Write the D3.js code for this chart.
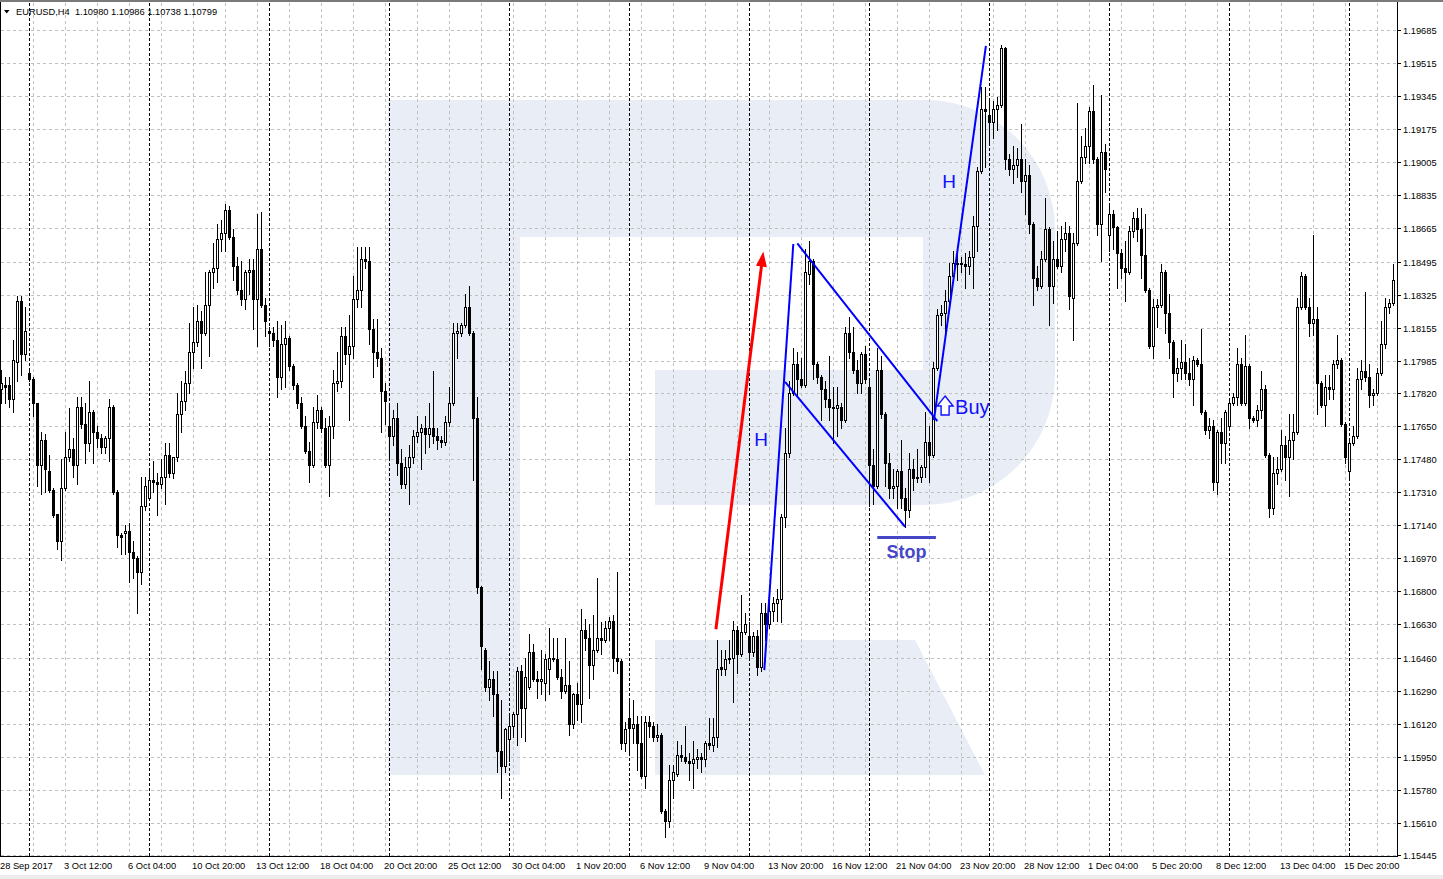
<!DOCTYPE html>
<html><head><meta charset="utf-8">
<script src="https://cdn.jsdelivr.net/npm/d3@7"></script>
<style>
html,body{margin:0;padding:0;background:#fff;overflow:hidden}
svg{display:block}
text{font-family:"Liberation Sans",Arial,sans-serif}
</style></head><body>
<svg id="c" width="1443" height="879"></svg>
<script>
// ---- DATA (EURUSD H4, first bar 28 Sep 2017 20:00) ----
const opens=[1.1784,1.1786,1.1786,1.1779,1.1798,1.1829,1.1802,1.1792,1.1789,1.1777,
1.1745,1.1758,1.1742,1.1732,1.1720,1.1706,1.1733,1.1749,1.1753,1.1745,
1.1775,1.1766,1.1756,1.1772,1.1762,1.1759,1.1754,1.1759,1.1775,1.1731,
1.1709,1.1710,1.1711,1.1700,1.1697,1.1690,1.1724,1.1728,1.1737,1.1736,
1.1735,1.1739,1.1750,1.1741,1.1749,1.1771,1.1778,1.1787,1.1803,1.1808,
1.1819,1.1813,1.1827,1.1844,1.1846,1.1861,1.1864,1.1876,1.1862,1.1847,
1.1835,1.1830,1.1844,1.1845,1.1830,1.1856,1.1827,1.1814,1.1813,1.1809,
1.1790,1.1807,1.1810,1.1796,1.1786,1.1777,1.1765,1.1752,1.1745,1.1767,
1.1773,1.1764,1.1745,1.1765,1.1787,1.1788,1.1811,1.1802,1.1806,1.1830,
1.1835,1.1851,1.1850,1.1815,1.1803,1.1800,1.1783,1.1765,1.1760,1.1769,
1.1746,1.1735,1.1744,1.1749,1.1760,1.1762,1.1764,1.1761,1.1764,1.1760,
1.1758,1.1757,1.1767,1.1777,1.1813,1.1813,1.1817,1.1826,1.1813,1.1769,
1.1682,1.1650,1.1631,1.1635,1.1627,1.1598,1.1590,1.1604,1.1611,1.1617,
1.1639,1.1620,1.1631,1.1649,1.1635,1.1634,1.1633,1.1640,1.1646,1.1645,
1.1636,1.1629,1.1632,1.1612,1.1627,1.1622,1.1660,1.1656,1.1642,1.1650,
1.1656,1.1655,1.1661,1.1665,1.1646,1.1644,1.1602,1.1615,1.1610,1.1612,
1.1602,1.1585,1.1613,1.1611,1.1605,1.1606,1.1567,1.1562,1.1583,1.1586,
1.1596,1.1595,1.1593,1.1592,1.1594,1.1595,1.1594,1.1602,1.1601,1.1605,
1.1641,1.1640,1.1645,1.1646,1.1660,1.1648,1.1659,1.1657,1.1649,1.1657,
1.1641,1.1669,1.1663,1.1670,1.1674,1.1676,1.1718,1.1751,1.1782,1.1797,
1.1789,1.1786,1.1843,1.1850,1.1797,1.1790,1.1784,1.1779,1.1775,1.1774,
1.1775,1.1768,1.1813,1.1803,1.1794,1.1787,1.1802,1.1785,1.1745,1.1734,
1.1794,1.1771,1.1746,1.1733,1.1734,1.1742,1.1728,1.1722,1.1743,1.1738,
1.1739,1.1744,1.1757,1.1750,1.1795,1.1822,1.1823,1.1829,1.1842,1.1848,
1.1849,1.1848,1.1847,1.1852,1.1868,1.1896,1.1928,1.1925,1.1921,1.1928,
1.1930,1.1959,1.1902,1.1897,1.1899,1.1902,1.1891,1.1894,1.1869,1.1841,
1.1837,1.1851,1.1866,1.1837,1.1851,1.1847,1.1861,1.1864,1.1831,1.1859,
1.1891,1.1903,1.1909,1.1927,1.1902,1.1869,1.1906,1.1863,1.1874,1.1867,
1.1854,1.1846,1.1844,1.1865,1.1872,1.1866,1.1853,1.1835,1.1806,1.1826,
1.1827,1.1844,1.1823,1.1808,1.1792,1.1795,1.1798,1.1792,1.1789,1.1799,
1.1797,1.1772,1.1763,1.1765,1.1736,1.1762,1.1756,1.1765,1.1777,1.1780,
1.1797,1.1777,1.1796,1.1769,1.1768,1.1773,1.1784,1.1750,1.1723,1.1741,
1.1743,1.1755,1.1749,1.1758,1.1762,1.1826,1.1842,1.1826,1.1818,1.1820,
1.1787,1.1776,1.1785,1.1784,1.1797,1.1799,1.1766,1.1742,1.1756,1.1760,
1.1789,1.1793,1.1790,1.1781,1.1782,1.1792,1.1807,1.1826,1.1828];
const highs=[1.1794,1.1790,1.1790,1.1809,1.1832,1.1832,1.1826,1.1793,1.1790,1.1777,
1.1762,1.1761,1.1750,1.1733,1.1720,1.1748,1.1762,1.1774,1.1759,1.1780,
1.1780,1.1777,1.1788,1.1773,1.1765,1.1761,1.1760,1.1779,1.1776,1.1732,
1.1710,1.1714,1.1715,1.1706,1.1698,1.1739,1.1739,1.1742,1.1747,1.1741,
1.1748,1.1756,1.1756,1.1749,1.1782,1.1788,1.1793,1.1818,1.1826,1.1827,
1.1824,1.1844,1.1845,1.1859,1.1869,1.1871,1.1879,1.1878,1.1866,1.1852,
1.1850,1.1845,1.1851,1.1851,1.1874,1.1875,1.1831,1.1816,1.1816,1.1819,
1.1817,1.1819,1.1811,1.1797,1.1787,1.1780,1.1770,1.1757,1.1775,1.1781,
1.1775,1.1769,1.1770,1.1794,1.1803,1.1816,1.1816,1.1822,1.1842,1.1857,
1.1857,1.1857,1.1857,1.1820,1.1820,1.1805,1.1787,1.1776,1.1773,1.1777,
1.1753,1.1749,1.1755,1.1763,1.1770,1.1766,1.1770,1.1777,1.1793,1.1764,
1.1760,1.1770,1.1785,1.1818,1.1818,1.1818,1.1833,1.1837,1.1814,1.1780,
1.1683,1.1651,1.1644,1.1639,1.1639,1.1624,1.1610,1.1616,1.1618,1.1641,
1.1642,1.1646,1.1658,1.1653,1.1639,1.1650,1.1648,1.1661,1.1656,1.1656,
1.1640,1.1656,1.1644,1.1628,1.1633,1.1671,1.1666,1.1663,1.1668,1.1687,
1.1664,1.1665,1.1667,1.1668,1.1690,1.1645,1.1613,1.1624,1.1624,1.1616,
1.1616,1.1616,1.1616,1.1613,1.1612,1.1607,1.1568,1.1591,1.1591,1.1603,
1.1601,1.1611,1.1597,1.1603,1.1599,1.1597,1.1603,1.1615,1.1615,1.1655,
1.1650,1.1650,1.1655,1.1665,1.1662,1.1678,1.1669,1.1664,1.1659,1.1660,
1.1674,1.1674,1.1675,1.1677,1.1681,1.1720,1.1764,1.1788,1.1805,1.1803,
1.1800,1.1856,1.1860,1.1851,1.1798,1.1791,1.1788,1.1801,1.1785,1.1785,
1.1777,1.1816,1.1821,1.1816,1.1799,1.1803,1.1806,1.1789,1.1753,1.1805,
1.1801,1.1772,1.1751,1.1743,1.1743,1.1758,1.1733,1.1751,1.1748,1.1753,
1.1745,1.1772,1.1765,1.1798,1.1825,1.1827,1.1835,1.1849,1.1855,1.1854,
1.1852,1.1854,1.1855,1.1873,1.1898,1.1939,1.1939,1.1932,1.1932,1.1934,
1.1961,1.1960,1.1905,1.1909,1.1908,1.1920,1.1902,1.1899,1.1870,1.1847,
1.1855,1.1882,1.1867,1.1860,1.1865,1.1868,1.1870,1.1868,1.1864,1.1931,
1.1914,1.1918,1.1929,1.1940,1.1903,1.1935,1.1910,1.1878,1.1876,1.1868,
1.1856,1.1860,1.1868,1.1875,1.1877,1.1877,1.1874,1.1836,1.1830,1.1830,
1.1848,1.1845,1.1833,1.1809,1.1800,1.1809,1.1807,1.1800,1.1801,1.1800,
1.1815,1.1773,1.1769,1.1768,1.1763,1.1769,1.1773,1.1779,1.1782,1.1805,
1.1800,1.1812,1.1797,1.1770,1.1776,1.1793,1.1786,1.1751,1.1749,1.1749,
1.1763,1.1760,1.1771,1.1771,1.1831,1.1844,1.1843,1.1831,1.1863,1.1826,
1.1788,1.1791,1.1791,1.1799,1.1812,1.1800,1.1767,1.1758,1.1765,1.1795,
1.1799,1.1834,1.1797,1.1784,1.1795,1.1819,1.1831,1.1830,1.1848];
const lows=[1.1777,1.1777,1.1775,1.1772,1.1788,1.1791,1.1799,1.1788,1.1770,1.1734,
1.1730,1.1731,1.1731,1.1718,1.1702,1.1696,1.1732,1.1747,1.1739,1.1735,
1.1764,1.1746,1.1752,1.1746,1.1754,1.1751,1.1751,1.1747,1.1730,1.1703,
1.1699,1.1699,1.1685,1.1687,1.1669,1.1684,1.1722,1.1727,1.1731,1.1719,
1.1733,1.1725,1.1739,1.1738,1.1747,1.1762,1.1773,1.1782,1.1795,1.1806,
1.1795,1.1812,1.1801,1.1836,1.1839,1.1855,1.1855,1.1861,1.1840,1.1833,
1.1827,1.1825,1.1833,1.1815,1.1806,1.1826,1.1811,1.1806,1.1806,1.1780,
1.1784,1.1785,1.1794,1.1784,1.1774,1.1764,1.1751,1.1736,1.1744,1.1764,
1.1762,1.1744,1.1729,1.1759,1.1783,1.1785,1.1797,1.1768,1.1800,1.1826,
1.1826,1.1846,1.1807,1.1790,1.1796,1.1762,1.1766,1.1749,1.1755,1.1740,
1.1733,1.1733,1.1725,1.1746,1.1757,1.1743,1.1751,1.1754,1.1756,1.1753,
1.1754,1.1755,1.1765,1.1776,1.1800,1.1811,1.1816,1.1812,1.1737,1.1679,
1.1640,1.1629,1.1624,1.1616,1.1587,1.1574,1.1587,1.1593,1.1605,1.1601,
1.1605,1.1603,1.1630,1.1634,1.1625,1.1627,1.1624,1.1627,1.1644,1.1635,
1.1625,1.1628,1.1606,1.1610,1.1614,1.1613,1.1650,1.1625,1.1635,1.1649,
1.1648,1.1654,1.1655,1.1639,1.1638,1.1599,1.1598,1.1596,1.1602,1.1588,
1.1584,1.1579,1.1605,1.1603,1.1603,1.1566,1.1554,1.1559,1.1574,1.1585,
1.1593,1.1592,1.1583,1.1579,1.1589,1.1587,1.1590,1.1599,1.1598,1.1600,
1.1637,1.1637,1.1643,1.1623,1.1638,1.1647,1.1658,1.1645,1.1647,1.1637,
1.1639,1.1655,1.1661,1.1665,1.1665,1.1664,1.1713,1.1749,1.1781,1.1781,
1.1785,1.1785,1.1838,1.1789,1.1787,1.1768,1.1775,1.1768,1.1756,1.1760,
1.1764,1.1767,1.1800,1.1792,1.1782,1.1782,1.1787,1.1724,1.1725,1.1733,
1.1769,1.1734,1.1728,1.1728,1.1723,1.1723,1.1713,1.1718,1.1732,1.1736,
1.1736,1.1739,1.1736,1.1749,1.1794,1.1817,1.1813,1.1826,1.1840,1.1840,
1.1844,1.1836,1.1843,1.1836,1.1855,1.1895,1.1898,1.1910,1.1913,1.1917,
1.1929,1.1897,1.1894,1.1890,1.1893,1.1885,1.1874,1.1864,1.1827,1.1835,
1.1836,1.1850,1.1817,1.1828,1.1846,1.1844,1.1855,1.1825,1.1809,1.1858,
1.1890,1.1900,1.1900,1.1900,1.1863,1.1850,1.1885,1.1855,1.1856,1.1836,
1.1841,1.1829,1.1843,1.1862,1.1860,1.1841,1.1834,1.1805,1.1800,1.1816,
1.1826,1.1813,1.1800,1.1780,1.1788,1.1789,1.1789,1.1786,1.1776,1.1796,
1.1771,1.1761,1.1759,1.1732,1.1730,1.1746,1.1746,1.1764,1.1776,1.1776,
1.1776,1.1776,1.1764,1.1767,1.1765,1.1769,1.1749,1.1718,1.1720,1.1735,
1.1742,1.1737,1.1729,1.1748,1.1761,1.1825,1.1825,1.1811,1.1812,1.1771,
1.1775,1.1765,1.1779,1.1779,1.1795,1.1765,1.1746,1.1737,1.1755,1.1759,
1.1784,1.1788,1.1775,1.1776,1.1781,1.1791,1.1805,1.1823,1.1827];
const closes=[1.1787,1.1785,1.1779,1.1799,1.1829,1.1802,1.1814,1.1789,1.1777,1.1745,
1.1758,1.1743,1.1732,1.1719,1.1706,1.1733,1.1749,1.1753,1.1745,1.1775,
1.1766,1.1756,1.1772,1.1762,1.1759,1.1754,1.1759,1.1775,1.1731,1.1709,
1.1708,1.1711,1.1700,1.1697,1.1690,1.1724,1.1734,1.1737,1.1736,1.1735,
1.1739,1.1750,1.1741,1.1749,1.1771,1.1778,1.1787,1.1803,1.1808,1.1819,
1.1813,1.1827,1.1844,1.1846,1.1861,1.1864,1.1876,1.1862,1.1847,1.1835,
1.1830,1.1844,1.1845,1.1830,1.1856,1.1827,1.1819,1.1813,1.1809,1.1790,
1.1807,1.1810,1.1796,1.1786,1.1777,1.1765,1.1752,1.1745,1.1767,1.1773,
1.1764,1.1745,1.1765,1.1787,1.1788,1.1811,1.1802,1.1806,1.1830,1.1835,
1.1851,1.1850,1.1815,1.1803,1.1800,1.1783,1.1778,1.1760,1.1769,1.1746,
1.1735,1.1744,1.1749,1.1760,1.1762,1.1764,1.1761,1.1764,1.1760,1.1758,
1.1757,1.1767,1.1777,1.1813,1.1814,1.1817,1.1826,1.1813,1.1769,1.1682,
1.1652,1.1631,1.1635,1.1627,1.1598,1.1590,1.1609,1.1611,1.1617,1.1639,
1.1620,1.1636,1.1649,1.1635,1.1634,1.1635,1.1645,1.1646,1.1645,1.1636,
1.1629,1.1632,1.1612,1.1627,1.1622,1.1660,1.1656,1.1642,1.1650,1.1656,
1.1655,1.1661,1.1665,1.1646,1.1644,1.1602,1.1609,1.1610,1.1612,1.1602,
1.1585,1.1613,1.1611,1.1605,1.1606,1.1567,1.1562,1.1583,1.1587,1.1596,
1.1595,1.1593,1.1592,1.1594,1.1595,1.1594,1.1602,1.1601,1.1605,1.1640,
1.1640,1.1645,1.1646,1.1660,1.1648,1.1659,1.1663,1.1649,1.1657,1.1641,
1.1669,1.1663,1.1670,1.1674,1.1676,1.1718,1.1751,1.1782,1.1797,1.1789,
1.1786,1.1844,1.1850,1.1797,1.1790,1.1784,1.1779,1.1775,1.1774,1.1776,
1.1768,1.1813,1.1803,1.1794,1.1787,1.1802,1.1789,1.1745,1.1734,1.1794,
1.1771,1.1746,1.1733,1.1734,1.1742,1.1728,1.1722,1.1743,1.1738,1.1739,
1.1744,1.1757,1.1750,1.1795,1.1822,1.1823,1.1829,1.1842,1.1849,1.1849,
1.1848,1.1847,1.1852,1.1868,1.1896,1.1928,1.1927,1.1921,1.1928,1.1930,
1.1959,1.1902,1.1897,1.1899,1.1902,1.1891,1.1894,1.1869,1.1841,1.1837,
1.1851,1.1866,1.1837,1.1851,1.1847,1.1861,1.1864,1.1832,1.1859,1.1891,
1.1903,1.1909,1.1927,1.1902,1.1869,1.1906,1.1897,1.1874,1.1867,1.1854,
1.1846,1.1844,1.1865,1.1872,1.1866,1.1853,1.1835,1.1806,1.1826,1.1827,
1.1844,1.1823,1.1808,1.1792,1.1795,1.1798,1.1792,1.1789,1.1799,1.1797,
1.1772,1.1763,1.1765,1.1736,1.1762,1.1756,1.1772,1.1777,1.1780,1.1797,
1.1777,1.1796,1.1769,1.1768,1.1773,1.1784,1.1750,1.1723,1.1741,1.1743,
1.1755,1.1749,1.1758,1.1762,1.1826,1.1842,1.1826,1.1818,1.1820,1.1787,
1.1776,1.1785,1.1784,1.1797,1.1799,1.1766,1.1749,1.1756,1.1760,1.1789,
1.1793,1.1790,1.1781,1.1782,1.1792,1.1807,1.1826,1.1828,1.1840];

const priceTicks=["1.19685","1.19515","1.19345","1.19175","1.19005","1.18835","1.18665","1.18495","1.18325","1.18155","1.17985","1.17820","1.17650","1.17480","1.17310","1.17140","1.16970","1.16800","1.16630","1.16460","1.16290","1.16120","1.15950","1.15780","1.15610","1.15445"];
const dateLabels=["28 Sep 2017","3 Oct 12:00","6 Oct 04:00","10 Oct 20:00","13 Oct 12:00","18 Oct 04:00","20 Oct 20:00","25 Oct 12:00","30 Oct 04:00","1 Nov 20:00","6 Nov 12:00","9 Nov 04:00","13 Nov 20:00","16 Nov 12:00","21 Nov 04:00","23 Nov 20:00","28 Nov 12:00","1 Dec 04:00","5 Dec 20:00","8 Dec 12:00","13 Dec 04:00","15 Dec 20:00"];
const barsPerLabel=16;
const headerText="EURUSD,H4  1.10980 1.10986 1.10738 1.10799";

// drawn objects, in [bar index, price]
const redArrow={from:[178.6,1.16605],to:[190.45,1.18546]};
const blueLines=[
  {from:[190.7,1.16395],to:[197.95,1.18585]},
  {from:[198.95,1.18588],to:[233.95,1.17675]},
  {from:[195.9,1.17877],to:[225.9,1.17132]},
  {from:[233.1,1.17680],to:[246.1,1.19603]}
];
const stopLine={from:[218.95,1.17077],to:[233.6,1.17077]};
const labelsH=[{t:"H",at:[189.9,1.17546]},{t:"H",at:[236.9,1.18873]}];
const buyLabel={arrowTip:[235.9,1.17804],text:"Buy",at:[238.4,1.17711]};
const stopLabel={text:"Stop",at:[226.25,1.16971]};

// ---- CHART ----
const N=closes.length;
const svg=d3.select("#c");
const x=d3.scaleLinear().domain([0,348]).range([1.5,1393.5]);
const y=d3.scaleLinear().domain([1.15445,1.19685]).range([855,30]);
const R=Math.round;

// bar times (weekdays only, 4h step)
const times=[];
{let t=Date.UTC(2017,8,28,20);
 for(let i=0;i<N;i++){times.push(new Date(t));
   t+=4*3600e3; let d=new Date(t).getUTCDay(); while(d===0||d===6){t+=24*3600e3; d=new Date(t).getUTCDay();}}}
const weekStarts=d3.range(N).filter(i=>i>0&&times[i].getUTCDay()===1&&times[i].getUTCHours()===0);

svg.append("rect").attr("width",1443).attr("height",879).attr("fill","#fff");

// watermark logo
const wm=svg.append("g").attr("fill","#e9edf5");
wm.append("path").attr("d","M388,100 H925 A130,130 0 0 1 1055,230 V375 A130,130 0 0 1 925,505 H655 V370 H923 V237 H520 V775 H388 Z");
wm.append("path").attr("d","M655,640 H915 L985,775 H655 Z");

// grid
const grid=svg.append("g").attr("stroke","#c0c0c0").attr("stroke-width",1).attr("stroke-dasharray","3,3").attr("shape-rendering","crispEdges");
priceTicks.forEach(t=>{const yy=R(y(+t))+0.5;grid.append("line").attr("x1",1).attr("x2",1397).attr("y1",yy).attr("y2",yy);});
d3.range(8,N,8).forEach(b=>{const xx=x(b);grid.append("line").attr("x1",xx).attr("x2",xx).attr("y1",3).attr("y2",856);});

// weekly separators
const sep=svg.append("g").attr("stroke","#000").attr("stroke-dasharray","3,2").attr("shape-rendering","crispEdges");
weekStarts.forEach(b=>{const xx=x(b);sep.append("line").attr("x1",xx).attr("x2",xx).attr("y1",3).attr("y2",856);});

// candles
const g=svg.append("g").attr("shape-rendering","crispEdges");
for(let i=0;i<N;i++){
  const o=opens[i],h=highs[i],l=lows[i],c=closes[i];
  const cx=Math.floor(x(i));
  const yH=R(y(Math.max(h,o,c))),yL=R(y(Math.min(l,o,c)));
  g.append("rect").attr("x",cx).attr("y",yH).attr("width",1).attr("height",yL-yH+1).attr("fill","#000");
  const yO=R(y(o)),yC=R(y(c));
  const top=Math.min(yO,yC),bot=Math.max(yO,yC);
  if(c>o&&bot-top>=2){
    g.append("rect").attr("x",cx-0.5).attr("y",top+0.5).attr("width",2).attr("height",bot-top).attr("fill","#fff").attr("stroke","#000");
  }else{
    g.append("rect").attr("x",cx-1).attr("y",top).attr("width",3).attr("height",bot-top+1).attr("fill","#000");
  }
}

// drawings
const P=d=>[x(d[0]),y(d[1])];
blueLines.forEach(L=>{const a=P(L.from),b=P(L.to);
  svg.append("line").attr("x1",a[0]).attr("y1",a[1]).attr("x2",b[0]).attr("y2",b[1]).attr("stroke","#0000ff").attr("stroke-width",2);});
{const a=P(stopLine.from),b=P(stopLine.to);
 svg.append("line").attr("x1",a[0]).attr("y1",a[1]).attr("x2",b[0]).attr("y2",b[1]).attr("stroke","#4646c8").attr("stroke-width",3);}
{const a=P(redArrow.from),b=P(redArrow.to);
 const dx=b[0]-a[0],dy=b[1]-a[1],len=Math.hypot(dx,dy),ux=dx/len,uy=dy/len;
 const hl=15,hw=5.5;const bx=b[0]-ux*hl,by=b[1]-uy*hl;
 svg.append("line").attr("x1",a[0]).attr("y1",a[1]).attr("x2",bx+ux*2).attr("y2",by+uy*2).attr("stroke","#ff0000").attr("stroke-width",3);
 svg.append("path").attr("d",`M${b[0]},${b[1]} L${bx-uy*hw},${by+ux*hw} L${bx+uy*hw},${by-ux*hw} Z`).attr("fill","#ff0000");}
labelsH.forEach(Lb=>{const p=P(Lb.at);
  svg.append("text").attr("x",p[0]).attr("y",p[1]).attr("text-anchor","middle").attr("font-size",19).attr("fill","#1010ff").text(Lb.t);});
{const t=P(buyLabel.arrowTip);const tx=t[0],ty=t[1];
 svg.append("path").attr("d",`M${tx},${ty} L${tx+8},${ty+10} L${tx+4},${ty+10} L${tx+4},${ty+19} L${tx-4},${ty+19} L${tx-4},${ty+10} L${tx-8},${ty+10} Z`)
  .attr("fill","#fff").attr("stroke","#1010ff").attr("stroke-width",1.4);
 const p=P(buyLabel.at);
 svg.append("text").attr("x",p[0]).attr("y",p[1]).attr("font-size",20).attr("fill","#1010ff").text(buyLabel.text);}
{const p=P(stopLabel.at);
 svg.append("text").attr("x",p[0]).attr("y",p[1]).attr("text-anchor","middle").attr("font-size",18).attr("font-weight","bold").attr("fill","#4646c8").text(stopLabel.text);}

// frame & axes
const fr=svg.append("g").attr("fill","#000").attr("shape-rendering","crispEdges");
fr.append("rect").attr("x",0).attr("y",0).attr("width",1443).attr("height",2).attr("fill","#7a7a7a");
fr.append("rect").attr("x",0).attr("y",2).attr("width",1).attr("height",855);
fr.append("rect").attr("x",1397).attr("y",2).attr("width",1).attr("height",855);
fr.append("rect").attr("x",0).attr("y",856).attr("width",1398).attr("height",1);
svg.append("rect").attr("x",0).attr("y",875).attr("width",1443).attr("height",4).attr("fill","#ececec");

const ax=svg.append("g").attr("font-size",9.3).attr("fill","#000");
priceTicks.forEach(t=>{const yy=R(y(+t));
  ax.append("rect").attr("x",1398).attr("y",yy).attr("width",3).attr("height",1).attr("shape-rendering","crispEdges");
  ax.append("text").attr("x",1403).attr("y",yy+3.5).text(t);});
dateLabels.forEach((t,k)=>{const xx=x(k*barsPerLabel);
  ax.append("text").attr("x",xx-1.5).attr("y",869).text(t);});

// header
svg.append("path").attr("d","M4,10 L9.5,10 L6.75,13.5 Z").attr("fill","#000");
svg.append("text").attr("x",16).attr("y",15).attr("font-size",9.3).attr("fill","#000").style("white-space","pre").text(headerText);
</script>
</body></html>
